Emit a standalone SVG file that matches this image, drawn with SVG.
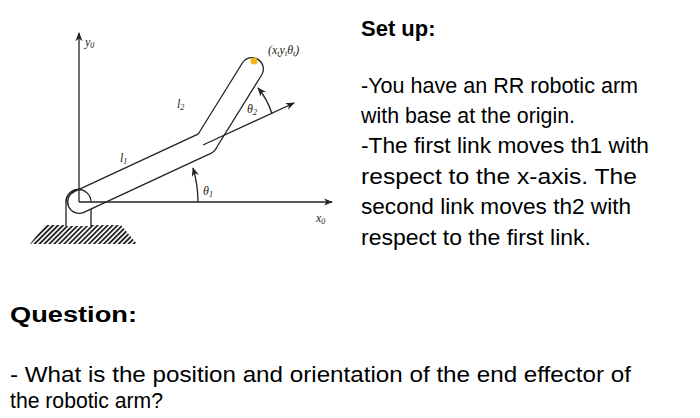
<svg xmlns="http://www.w3.org/2000/svg" width="700" height="418" viewBox="0 0 700 418">
<style>
.t{font-family:"Liberation Sans",Arial,sans-serif;font-size:22px;fill:#000}
.b{font-weight:bold}
.m{font-family:"Liberation Serif",serif;font-style:italic;font-size:12px;fill:#222}
.ln{stroke:#222;stroke-width:1.3;fill:none}
</style>
<defs>
<marker id="ar" viewBox="0 0 10 10" refX="9" refY="5" markerWidth="7" markerHeight="7" orient="auto"><path d="M0,1 L10,5 L0,9 L3,5 z" fill="#222"/></marker>
<pattern id="h" width="3.5" height="3.5" patternUnits="userSpaceOnUse" patternTransform="rotate(45)"><rect x="0" y="0" width="1.8" height="3.5" fill="#222"/></pattern>
</defs>
<rect width="700" height="418" fill="#fff"/>
<g id="ground"><path d="M45,225 L121,225 L137,244 L30,244 Z" fill="url(#h)"/></g>
<g id="base"><path d="M66,226 L66,202 A12.5,12.5 0 0 1 91,202 L91,226" fill="#fff" stroke="#222" stroke-width="1.3"/></g>
<g id="arm">
<line x1="79" y1="202" x2="206" y2="143" stroke="#222" stroke-width="24" stroke-linecap="round"/>
<line x1="206" y1="143" x2="252" y2="69" stroke="#222" stroke-width="24" stroke-linecap="round"/>
<line x1="79" y1="202" x2="206" y2="143" stroke="#fff" stroke-width="21.4" stroke-linecap="round"/>
<line x1="206" y1="143" x2="252" y2="69" stroke="#fff" stroke-width="21.4" stroke-linecap="round"/>
<path d="M66,202 A12.5,12.5 0 0 1 91,202" fill="none" stroke="#222" stroke-width="1.3"/>
<circle cx="254" cy="61" r="3.5" fill="#f2b61e"/>
</g>
<g id="connectors">
<line class="ln" x1="79" y1="202" x2="79" y2="33" marker-end="url(#ar)"/>
<line class="ln" x1="79" y1="202" x2="332" y2="202" marker-end="url(#ar)"/>
<line class="ln" x1="203" y1="145" x2="294" y2="103" stroke-width="1" marker-end="url(#ar)"/>
<path class="ln" d="M198,202 A119,119 0 0 0 193,168" stroke-width="1" marker-end="url(#ar)"/>
<path class="ln" d="M272,114 A72,72 0 0 0 258,88" stroke-width="1" marker-end="url(#ar)"/>
</g>
<g id="labels">
<text class="m" x="85" y="46" font-style="normal">y<tspan font-size="8" dy="2">0</tspan></text>
<text class="m" x="316" y="222" font-style="normal">x<tspan font-size="8" dy="2">0</tspan></text>
<text class="m" x="120" y="162">l<tspan font-size="8" dy="2">1</tspan></text>
<text class="m" x="177" y="108">l<tspan font-size="8" dy="2">2</tspan></text>
<text class="m" x="203" y="195">θ<tspan font-size="8" dy="2">1</tspan></text>
<text class="m" x="247" y="113">θ<tspan font-size="8" dy="2">2</tspan></text>
<text class="m" x="268" y="54">(x<tspan font-size="8" dy="2">t</tspan><tspan dy="-2">y</tspan><tspan font-size="8" dy="2">t</tspan><tspan dy="-2">θ</tspan><tspan font-size="8" dy="2">t</tspan><tspan dy="-2">)</tspan></text>
</g>
<g id="text">
<text class="t b" x="361" y="36" font-size="20">Set up:</text>
<text class="t" x="361" y="93" textLength="277" lengthAdjust="spacingAndGlyphs">-You have an RR robotic arm</text>
<text class="t" x="361" y="123" textLength="214" lengthAdjust="spacingAndGlyphs">with base at the origin.</text>
<text class="t" x="361" y="153" textLength="288" lengthAdjust="spacingAndGlyphs">-The first link moves th1 with</text>
<text class="t" x="361" y="184" textLength="276" lengthAdjust="spacingAndGlyphs">respect to the x-axis. The</text>
<text class="t" x="361" y="214" textLength="270" lengthAdjust="spacingAndGlyphs">second link moves th2 with</text>
<text class="t" x="361" y="245" textLength="230" lengthAdjust="spacingAndGlyphs">respect to the first link.</text>
<text class="t b" x="10" y="322" textLength="127" lengthAdjust="spacingAndGlyphs">Question:</text>
<text class="t" x="10" y="382" textLength="621" lengthAdjust="spacingAndGlyphs">- What is the position and orientation of the end effector of</text>
<text class="t" x="10" y="408" textLength="153" lengthAdjust="spacingAndGlyphs">the robotic arm?</text>
</g>
</svg>
